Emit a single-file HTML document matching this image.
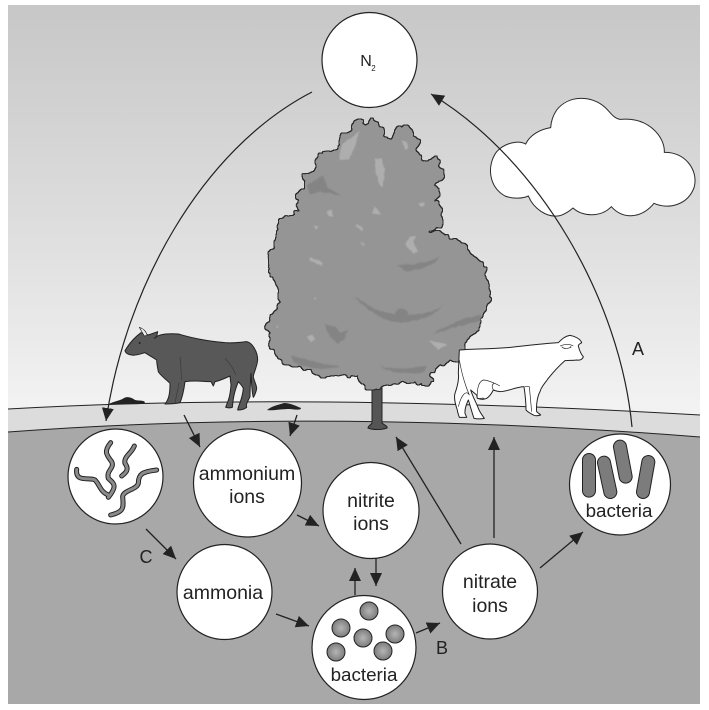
<!DOCTYPE html>
<html><head><meta charset="utf-8"><style>
html,body{margin:0;padding:0;background:#fff}
svg{display:block}
text{font-family:"Liberation Sans",sans-serif;fill:#222;text-anchor:middle}
</style></head><body>
<svg width="709" height="710" viewBox="0 0 709 710" xmlns="http://www.w3.org/2000/svg">
<defs>
<linearGradient id="sky" x1="0" y1="0" x2="0" y2="1"><stop offset="0" stop-color="#c7c7c7"/><stop offset=".5" stop-color="#dcdcdc"/><stop offset="1" stop-color="#f3f3f3"/></linearGradient>
<radialGradient id="ball" cx=".5" cy=".5" r=".55"><stop offset="0" stop-color="#b5b5b5"/><stop offset="1" stop-color="#777"/></radialGradient>
<marker id="ah" markerUnits="userSpaceOnUse" markerWidth="14" markerHeight="13" refX="13" refY="6" orient="auto"><path d="M0 0L13 6L0 12Z" fill="#222"/></marker>
<filter id="treef" x="-5%" y="-5%" width="110%" height="110%" color-interpolation-filters="sRGB">
<feTurbulence type="fractalNoise" baseFrequency=".055" numOctaves="3" seed="4" result="n"/>
<feDisplacementMap in="SourceAlpha" in2="n" scale="22" xChannelSelector="R" yChannelSelector="G" result="d"/>
<feGaussianBlur in="d" stdDeviation="2.500" result="b"/>
<feComponentTransfer in="b" result="s"><feFuncA type="linear" slope="12" intercept="-5.500"/></feComponentTransfer>
<feMorphology in="s" operator="dilate" radius="3" result="o"/>
<feFlood flood-color="#2c2c2c"/><feComposite in2="o" operator="in" result="oc"/>
<feFlood flood-color="#959595"/><feComposite in2="s" operator="in" result="fc"/>
<feMerge><feMergeNode in="oc"/><feMergeNode in="fc"/></feMerge>
</filter>
<filter id="soft" x="-5%" y="-5%" width="110%" height="110%" color-interpolation-filters="sRGB">
<feTurbulence type="fractalNoise" baseFrequency=".06" numOctaves="2" seed="9" result="n"/>
<feDisplacementMap in="SourceGraphic" in2="n" scale="8" xChannelSelector="R" yChannelSelector="G" result="d"/>
<feGaussianBlur in="d" stdDeviation="1.500"/>
</filter>
</defs>
<rect x="8" y="5" width="692" height="410" fill="url(#sky)"/>
<path d="M8 409Q300 392 700 415V440H8Z" fill="#dcdcdc"/>
<path d="M8 432Q330 408 700 437V704H8Z" fill="#a8a8a8"/>
<path d="M8 409Q300 392 700 415M8 432Q330 408 700 437" fill="none" stroke="#222" stroke-width="1"/>
<!-- cloud -->
<g transform="translate(485 90) scale(.33333)">
<path d="M122 162C100 150 60 158 35 185C5 225 10 290 60 318C85 328 115 325 130 318C145 355 185 385 225 377C240 372 255 362 264 354C290 378 345 385 379 350C415 390 470 385 507 340C550 360 610 345 628 290C640 240 600 185 538 187C540 140 490 80 405 88C385 85 375 65 360 52C320 15 250 15 215 60C205 75 198 95 197 113C165 118 135 135 122 162Z" fill="#fff" stroke="#2a2a2a" stroke-width="3"/>
</g>
<!-- arcs -->
<path d="M312 92C200 150 125 290 106 421" fill="none" stroke="#222" stroke-width="1.200" marker-end="url(#ah)"/>
<path d="M632 427C620 300 540 160 431 94" fill="none" stroke="#222" stroke-width="1.200" marker-end="url(#ah)"/>
<!-- trunk -->
<path d="M372 385H382V423C384 425 388 426 387 428C382 430 372 430 368 428C368 426 371 425 372 423Z" fill="#555" stroke="#222" stroke-width="1"/>
<!-- tree -->
<g transform="translate(260 110) scale(.33333)">
<path filter="url(#treef)" d="M280 35L295 30L320 42L340 30L355 45L372 60L368 85L390 88L405 75L415 48L425 55L438 45L455 65L478 90L468 120L480 150L505 158L530 135L535 170L552 180L550 205L525 215L535 240L538 260L520 268L540 290L545 320L550 345L515 352L500 370L525 362L560 378L610 400L630 432L670 460L675 490L685 515L690 570L680 600L660 620L660 650L620 690L610 715L595 750L540 765L505 795L518 815L500 825L440 815L360 825L355 838L320 838L300 810L298 785L285 800L245 792L185 800L130 770L75 765L50 735L30 700L28 655L15 655L40 605L55 595L60 545L30 490L25 440L40 415L50 375L60 325L90 320L115 300L108 255L135 235L128 190L165 185L170 150L185 125L235 125L245 70L275 62Z"/>
<g filter="url(#soft)">
<g fill="#aeaeae">
<path d="M300 62L285 110L268 148L238 150L245 105Z"/><path d="M345 145L365 145L375 180L368 232L358 225L347 185Z"/><path d="M422 92L440 95L445 112L436 120Z"/><path d="M476 280L492 276L495 288L482 290Z"/><path d="M200 305L215 298L222 322L205 320Z"/><path d="M335 310L346 290L362 312Z"/><path d="M158 345L176 350L170 358Z"/><path d="M290 340L310 355L308 364L288 350Z"/><path d="M300 398L314 402L310 410Z"/><path d="M450 380L470 378L458 395L475 425L462 432L435 405Z"/><path d="M150 440L188 458L185 468L148 452Z"/><path d="M160 562L170 564L165 570Z"/><path d="M48 645L56 650L52 656Z"/><path d="M140 678L158 676L168 690L155 698Z"/><path d="M507 692L562 702L535 720Z"/>
</g>
<g fill="#848484">
<path d="M140 225L190 195L205 235L242 255L180 245L150 255Z"/><path d="M410 465C450 465 510 460 538 440C525 470 480 475 440 486Z"/><path d="M280 562C320 570 340 610 405 612C410 590 440 590 445 615C490 610 530 610 548 582C530 620 480 630 430 638C370 640 330 600 280 562Z"/><path d="M515 672C560 650 610 620 665 615L660 635C610 640 570 660 515 672Z"/><path d="M195 645L225 650L240 668L265 660L255 685L232 702L210 680Z"/><path d="M95 738C130 745 190 765 240 768C210 785 130 775 100 755Z"/><path d="M360 768C400 780 460 775 502 768L495 785C450 795 390 790 360 768Z"/>
</g>
</g>
</g>
<!-- dark cow -->
<g transform="translate(115 320) scale(.33333)" stroke-linejoin="round">
<path d="M30 92C38 78 55 55 78 38L100 45L128 35L125 50L118 55C130 42 160 40 190 42C220 50 250 60 330 68C360 70 380 66 395 65C412 68 428 95 428 120C425 145 415 160 415 170C416 180 425 195 425 205C424 215 418 228 415 232C410 215 410 190 408 160C406 190 405 215 405 230C398 245 392 252 395 262C385 270 375 270 368 270C370 255 382 240 385 205C380 195 375 190 370 185C362 205 355 225 352 262C345 264 338 264 332 262C338 245 345 235 348 195L345 168C330 175 315 182 300 185L295 198L288 185C265 185 245 180 210 185C208 200 205 225 195 248C180 252 165 252 150 252C160 240 165 225 165 190C150 175 135 165 130 155C127 140 125 130 125 120C110 110 100 105 90 98C75 102 60 108 50 105C40 104 32 100 30 92Z" fill="#585858" stroke="#222" stroke-width="3"/>
<path d="M73 22C85 26 92 32 97 46L88 48Z" fill="#eee" stroke="#222" stroke-width="2"/>
<path d="M195 110C198 130 198 160 200 180M330 115C345 130 358 150 362 165M180 250C183 230 190 205 192 188" fill="none" stroke="#3a3a3a" stroke-width="2"/>
<circle cx="74" cy="69" r="3" fill="#222"/>
</g>
<!-- dung -->
<path d="M109 404C114 401 120 401 124 398C128 396 132 398 135 400C139 401 143 400 145 402C145 405 130 404 109 404ZM267 410C272 406 278 405 284 403C290 403 296 406 301 408C301 410 298 410 290 409C280 409 272 411 267 410Z" fill="#222"/>
<!-- white cow -->
<g transform="translate(450 330) scale(.33333)" stroke-linejoin="round">
<path d="M28 60C80 55 140 58 200 50C245 45 290 40 325 38C335 28 345 18 360 16C375 18 392 28 395 38C388 42 384 45 385 48C388 60 392 72 400 80C398 88 390 92 380 90C370 92 355 90 345 92C330 105 315 120 295 145C280 165 272 175 270 185C262 200 258 225 260 245C265 250 270 252 272 255C262 258 255 258 250 255C240 250 232 245 228 240C228 215 225 190 222 170C195 172 170 185 150 185C140 184 135 182 130 180C125 190 118 200 110 205C100 210 90 208 82 205L80 195L62 180C68 200 82 225 85 235C90 248 98 258 103 265C92 267 82 267 72 265C65 245 60 225 55 210C48 225 44 240 45 250L50 262H28C24 250 22 245 22 240C15 220 12 200 15 190C22 170 28 150 25 130Z" fill="#fff" stroke="#222" stroke-width="3"/>
<path d="M28 90C35 130 45 165 58 195C50 180 35 190 25 230M82 205C80 180 85 155 100 150C115 150 135 160 150 168M130 180C125 170 125 165 132 160M225 170L238 170L245 245M330 48C345 42 360 42 370 48M335 50C340 56 350 58 362 52M82 205C90 208 100 200 104 208" fill="none" stroke="#222" stroke-width="2"/>
<circle cx="362" cy="51" r="2" fill="#222"/>
</g>
<!-- circles -->
<g fill="#fff" stroke="#222" stroke-width="1.200">
<circle cx="369.500" cy="60" r="47.500"/>
<circle cx="115.500" cy="476.500" r="47.500"/>
<circle cx="247.500" cy="483" r="54"/>
<circle cx="224.500" cy="592" r="47.500"/>
<circle cx="364" cy="647.500" r="52"/>
<circle cx="371" cy="510.500" r="48"/>
<circle cx="490" cy="591.500" r="47.500"/>
<circle cx="620" cy="484.500" r="50.500"/>
</g>
<!-- worms -->
<g transform="translate(0 320) scale(.33333)" fill="none" stroke-linecap="round">
<g stroke="#222" stroke-width="15"><path d="M332 368C310 395 320 405 335 425C345 445 318 450 325 475C340 490 355 495 325 532"/><path d="M403 378C395 400 370 410 375 430C390 450 375 460 365 468"/><path d="M230 448C225 490 270 470 285 480C300 495 300 515 325 525"/><path d="M470 450C430 455 415 460 415 490C410 510 370 510 368 530C370 560 375 575 332 585"/></g>
<g stroke="#8a8a8a" stroke-width="9"><path d="M332 368C310 395 320 405 335 425C345 445 318 450 325 475C340 490 355 495 325 532"/><path d="M403 378C395 400 370 410 375 430C390 450 375 460 365 468"/><path d="M230 448C225 490 270 470 285 480C300 495 300 515 325 525"/><path d="M470 450C430 455 415 460 415 490C410 510 370 510 368 530C370 560 375 575 332 585"/></g>
</g>
<!-- rods -->
<g transform="translate(355 320) scale(.33333)" fill="none" stroke-linecap="round">
<g stroke="#222" stroke-width="42"><path d="M702 420L702 512"/><path d="M747 428L766 516"/><path d="M795 380L812 470"/><path d="M880 426L864 516"/></g>
<g stroke="#7c7c7c" stroke-width="36"><path d="M702 420L702 512"/><path d="M747 428L766 516"/><path d="M795 380L812 470"/><path d="M880 426L864 516"/></g>
</g>
<!-- balls -->
<g fill="url(#ball)" stroke="#222" stroke-width="1">
<circle cx="341" cy="628" r="9"/><circle cx="336" cy="652" r="9"/><circle cx="369" cy="611" r="9"/><circle cx="363" cy="638" r="9"/><circle cx="395" cy="634" r="9"/><circle cx="383" cy="651" r="9"/>
</g>
<!-- arrows -->
<g stroke="#222" stroke-width="1.300" fill="none">
<path d="M184 415L200 447" marker-end="url(#ah)"/>
<path d="M297 415L290 436" marker-end="url(#ah)"/>
<path d="M297 515L319 526" marker-end="url(#ah)"/>
<path d="M146 529L176 559" marker-end="url(#ah)"/>
<path d="M276 614L309 626" marker-end="url(#ah)"/>
<path d="M376 558L376 586" marker-end="url(#ah)"/>
<path d="M355 595L355 568" marker-end="url(#ah)"/>
<path d="M416 633L440 623" marker-end="url(#ah)"/>
<path d="M461 544L396 437" marker-end="url(#ah)"/>
<path d="M494 538L494 437" marker-end="url(#ah)"/>
<path d="M540 568L583 532" marker-end="url(#ah)"/>
</g>
<!-- labels -->
<g font-size="19.500">
<text x="247" y="480">ammonium</text><text x="247" y="503">ions</text>
<text x="371" y="507">nitrite</text><text x="371" y="530">ions</text>
<text x="223" y="599">ammonia</text>
<text x="490" y="588">nitrate</text><text x="490" y="612">ions</text>
<text x="619" y="517" font-size="18.800">bacteria</text>
<text x="364" y="681" font-size="18.800">bacteria</text>
</g>
<g font-size="18"><text x="638" y="355">A</text><text x="146" y="563">C</text><text x="442" y="654">B</text></g>
<text x="366" y="66" font-size="16">N</text><text x="373.500" y="71" font-size="8">2</text>
</svg>
</body></html>
